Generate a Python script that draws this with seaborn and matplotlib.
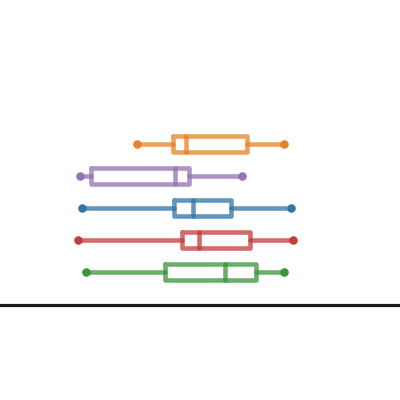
import pandas as pd
import matplotlib
matplotlib.use("Agg")
import matplotlib.pyplot as plt
import seaborn as sns

# five-number summaries (x in 0-100 units), top to bottom
groups = ["A", "B", "C", "D", "E"]
whislo = [34.25, 20.0, 20.5, 19.5, 21.5]
q1 = [43.25, 22.75, 43.5, 45.5, 41.25]
median = [46.5, 43.75, 48.25, 49.75, 56.25]
q3 = [61.75, 47.25, 57.75, 62.5, 64.0]
whishi = [71.0, 60.5, 72.75, 73.25, 71.0]
colors = ["#ff7f0e", "#9467bd", "#1f77b4", "#d62728", "#2ca02c"]

# five points per group give exactly these quartiles with whis=(0, 100)
rows = []
for i, g in enumerate(groups):
    for v in (whislo[i], q1[i], median[i], q3[i], whishi[i]):
        rows.append({"group": g, "value": v})
df = pd.DataFrame(rows)

palette = [sns.desaturate(c, 0.8) for c in colors]

sns.set_style("white")
fig = plt.figure(figsize=(4, 4), dpi=100)
ax = fig.add_axes([0, 95 / 400, 1, 305 / 400])

sns.boxplot(
    data=df, x="value", y="group", hue="group", order=groups,
    palette=palette, fill=False, dodge=False, width=0.5, linewidth=3.3,
    whis=(0, 100), legend=False, ax=ax, capwidths=0,
    capprops=dict(marker="o", markersize=5),
)

for line in ax.lines:
    line.set_alpha(0.75)
    line.set_solid_joinstyle("round")
    line.set_solid_capstyle("round")

ax.set_xlim(0, 100)
ax.set_ylim(5.03, -4.5)
ax.set_xlabel("")
ax.set_ylabel("")
ax.set_xticks([])
ax.set_yticks([])
sns.despine(ax=ax, left=True, top=True, right=True)
ax.spines["bottom"].set_linewidth(2.3)
ax.spines["bottom"].set_color("#1a1a1a")

fig.savefig("out.png", dpi=100)
